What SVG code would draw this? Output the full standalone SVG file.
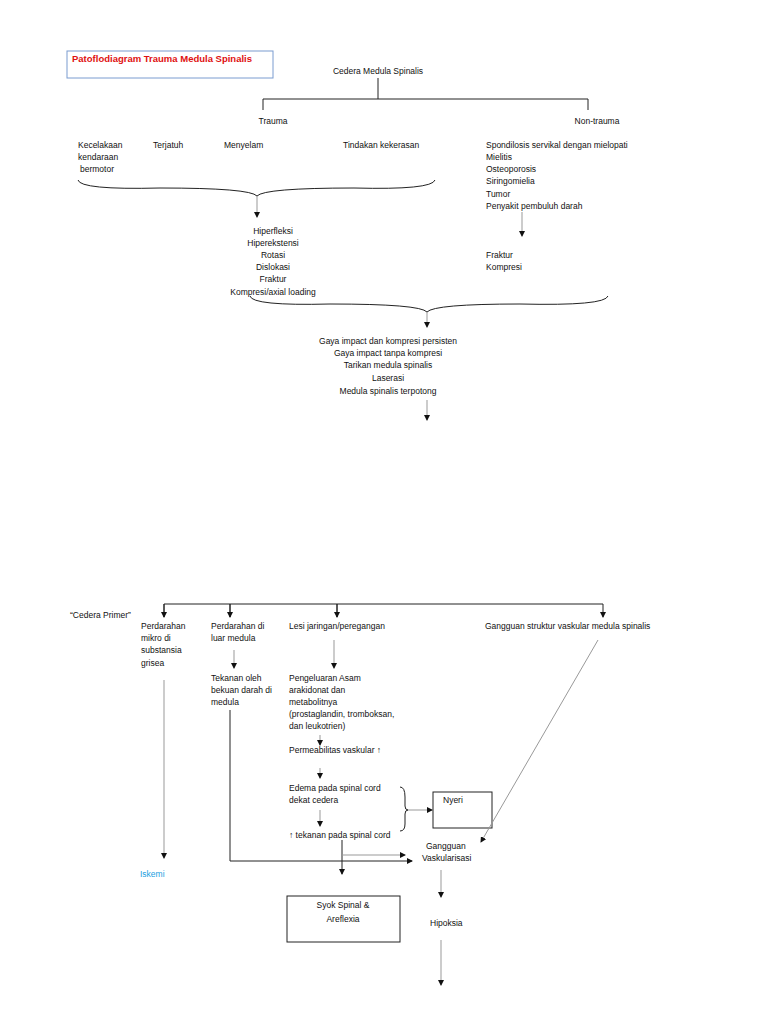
<svg xmlns="http://www.w3.org/2000/svg" width="768" height="1024" viewBox="0 0 768 1024">
<style>
text{font-family:"Liberation Sans",Arial,sans-serif;font-size:8.5px;fill:#111}
.c{text-anchor:middle}
.l{stroke:#222;stroke-width:1;fill:none}
.g{stroke:#999;stroke-width:1;fill:none}
</style>
<defs><marker id="a" markerWidth="6" markerHeight="6" refX="5" refY="3" orient="auto" markerUnits="userSpaceOnUse"><path d="M0,0L6,3L0,6z" fill="#111"/></marker></defs>
<rect width="768" height="1024" fill="#fff"/>
<g id="title"><rect x="67" y="51" width="206" height="27" fill="none" stroke="#7a9cd0"/><text x="72" y="62" style="fill:#e01010;font-weight:bold;font-size:9.5px">Patoflodiagram Trauma Medula Spinalis</text></g>
<g id="root"><text x="378" y="74" class="c">Cedera Medula Spinalis</text></g>
<g id="trauma"><text x="273" y="124" class="c">Trauma</text></g>
<g id="nontrauma"><text x="597" y="124" class="c">Non-trauma</text></g>
<g id="causes"><text x="78" y="148">Kecelakaan</text><text x="78" y="160">kendaraan</text><text x="80" y="172">bermotor</text>
<text x="153" y="148">Terjatuh</text><text x="224" y="148">Menyelam</text><text x="343" y="148">Tindakan kekerasan</text></g>
<g id="nontraumalist"><text x="486" y="148">Spondilosis servikal dengan mielopati</text><text x="486" y="160">Mielitis</text><text x="486" y="172">Osteoporosis</text><text x="486" y="184">Siringomielia</text><text x="486" y="197">Tumor</text><text x="486" y="209">Penyakit pembuluh darah</text></g>
<g id="mech"><text x="273" y="234" class="c">Hiperfleksi</text><text x="273" y="246" class="c">Hiperekstensi</text><text x="273" y="258" class="c">Rotasi</text><text x="273" y="270" class="c">Dislokasi</text><text x="273" y="282" class="c">Fraktur</text><text x="273" y="295" class="c">Kompresi/axial loading</text></g>
<g id="fraktur"><text x="486" y="258">Fraktur</text><text x="486" y="270">Kompresi</text></g>
<g id="gaya"><text x="388" y="344" class="c">Gaya impact  dan kompresi persisten</text><text x="388" y="356" class="c">Gaya impact tanpa kompresi</text><text x="388" y="368" class="c">Tarikan medula spinalis</text><text x="388" y="381" class="c">Laserasi</text><text x="388" y="394" class="c">Medula spinalis terpotong</text></g>
<g id="primer"><text x="70" y="618">“Cedera Primer”</text></g>
<g id="micro"><text x="141" y="629">Perdarahan</text><text x="141" y="641">mikro di</text><text x="141" y="653">substansia</text><text x="141" y="666">grisea</text></g>
<g id="iskemi"><text x="140" y="877" style="fill:#1aa0e0">Iskemi</text></g>
<g id="luar"><text x="211" y="629">Perdarahan di</text><text x="211" y="641">luar medula</text></g>
<g id="tekanan"><text x="211" y="681">Tekanan oleh</text><text x="211" y="693">bekuan darah di</text><text x="211" y="705">medula</text></g>
<g id="lesi"><text x="289" y="629">Lesi jaringan/peregangan</text></g>
<g id="asam"><text x="289" y="681">Pengeluaran Asam</text><text x="289" y="693">arakidonat dan</text><text x="289" y="705">metabolitnya</text><text x="289" y="717">(prostaglandin, tromboksan,</text><text x="289" y="729">dan leukotrien)</text></g>
<g id="perm"><text x="289" y="753">Permeabilitas vaskular ↑</text></g>
<g id="edema"><text x="289" y="791">Edema pada spinal cord</text><text x="289" y="803">dekat cedera</text></g>
<g id="tek"><text x="289" y="838">↑ tekanan pada spinal cord</text></g>
<g id="nyeri"><rect x="433" y="792" width="59" height="36" fill="none" stroke="#222"/><text x="443" y="803">Nyeri</text></g>
<g id="struktur"><text x="485" y="629">Gangguan struktur vaskular medula spinalis</text></g>
<g id="vask"><text x="426" y="849">Gangguan</text><text x="422" y="861">Vaskularisasi</text></g>
<g id="syok"><rect x="287" y="896" width="113" height="46" fill="none" stroke="#222"/><text x="343" y="908" class="c">Syok Spinal &amp;</text><text x="343" y="922" class="c">Areflexia</text></g>
<g id="hipoksia"><text x="430" y="926">Hipoksia</text></g>
<g id="connectors">
<path class="l" d="M378,78V99M263,110V99H588V110"/>
<path class="l" d="M78,180Q80,190 160,188Q250,188 257,196Q264,188 354,188Q432,190 435,180"/>
<path class="g" d="M257,196V217" marker-end="url(#a)"/>
<path class="g" d="M522,212V236" marker-end="url(#a)"/>
<path class="l" d="M250,296Q252,306 330,304Q420,304 427,312Q434,304 520,304Q605,306 608,296"/>
<path class="g" d="M427,312V327" marker-end="url(#a)"/>
<path class="g" d="M427,400V420" marker-end="url(#a)"/>
<path class="l" d="M164,604H603"/>
<path class="l" d="M164,604V617M230,604V617M337,604V617M603,604V617" marker-end="url(#a)"/>
<path class="l" d="M164,604V617" marker-end="url(#a)"/><path class="l" d="M230,604V617" marker-end="url(#a)"/><path class="l" d="M337,604V617" marker-end="url(#a)"/>
<path class="g" d="M164,680V858" marker-end="url(#a)"/>
<path class="g" d="M234,650V668" marker-end="url(#a)"/>
<path class="l" d="M230,710V861H412" marker-end="url(#a)"/>
<path class="g" d="M334,640V668" marker-end="url(#a)"/>
<path class="g" d="M320,735V745" marker-end="url(#a)"/>
<path class="g" d="M320,768V778" marker-end="url(#a)"/>
<path class="g" d="M320,810V826" marker-end="url(#a)"/>
<path class="l" d="M400,787Q405,787 405,797V806Q405,810 408,810Q405,810 405,814V824Q405,831 400,831"/>
<path class="g" d="M408,810H432" marker-end="url(#a)"/>
<path class="l" d="M342,840V874" marker-end="url(#a)"/>
<path class="g" d="M342,855H405" marker-end="url(#a)"/>
<path class="g" d="M598,640L481,842" marker-end="url(#a)"/>
<path class="g" d="M441,870V897" marker-end="url(#a)"/>
<path class="g" d="M441,940V985" marker-end="url(#a)"/>
</g>
</svg>
